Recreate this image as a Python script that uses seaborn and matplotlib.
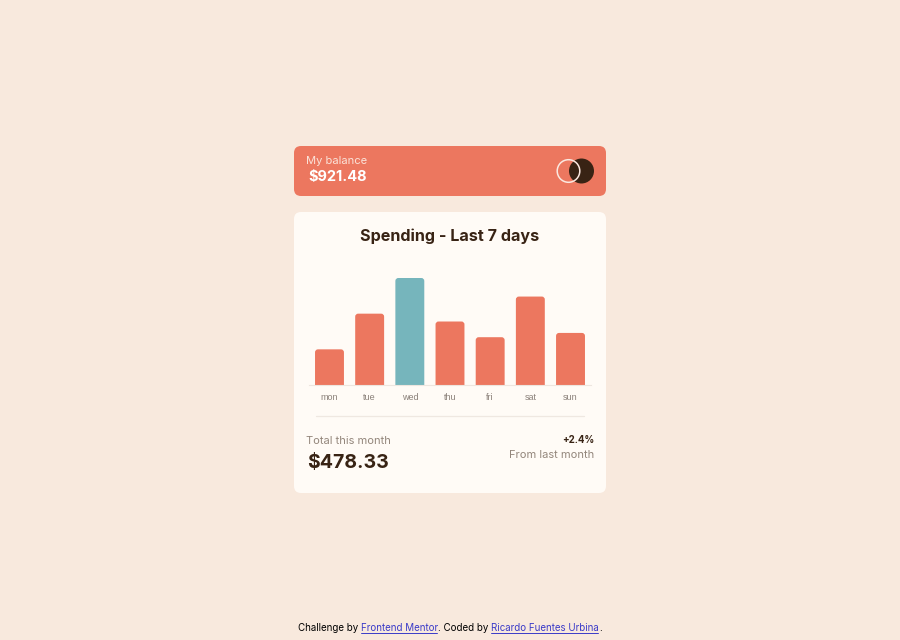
import matplotlib
matplotlib.use("Agg")
import matplotlib.pyplot as plt
import seaborn as sns
import pandas as pd
from matplotlib.patches import FancyBboxPatch, Circle
from matplotlib.transforms import IdentityTransform
from matplotlib.lines import Line2D

days = ["mon", "tue", "wed", "thu", "fri", "sat", "sun"]
amounts = [17.45, 34.91, 52.36, 31.07, 23.39, 43.28, 25.48]
highlight_day = "wed"
balance_label = "My balance"
balance_value = "$921.48"
chart_title = "Spending - Last 7 days"
total_label = "Total this month"
total_value = "$478.33"
change_value = "+2.4%"
change_label = "From last month"

BG = "#F8E9DD"
CARD = "#FFFBF6"
RED = "#EC775F"
CYAN = "#76B5BC"
DARK = "#382314"
GRAY = "#93867B"

sns.set_theme(style="white")
plt.rcParams["font.family"] = ["Inter", "DejaVu Sans"]

W, H = 900, 640
fig = plt.figure(figsize=(9, 6.4), dpi=100)
fig.patch.set_facecolor(BG)
ID = IdentityTransform()


def card(x0, y0, x1, y1, color):
    p = FancyBboxPatch((x0, H - y1), x1 - x0, y1 - y0,
                       boxstyle="round,pad=0,rounding_size=7",
                       transform=ID, facecolor=color, edgecolor="none", zorder=0)
    fig.add_artist(p)


def txt(x, y, s, **kw):
    return fig.text(x / W, (H - y) / H, s, **kw)


# balance card
card(294, 146, 606, 196, RED)
txt(306, 160.5, balance_label, color="#FBE3D9", fontsize=8, va="center", ha="left")
txt(308, 177, balance_value, color="white", fontsize=10.5, fontweight="bold", va="center", ha="left")
fig.add_artist(Circle((581.5, H - 171), 12.5, transform=ID, facecolor=DARK, edgecolor="none", zorder=2))
fig.add_artist(Circle((568.5, H - 171), 11.3, transform=ID, facecolor="none", edgecolor="#FBE8E0", lw=1.1, zorder=3))

# spending card
card(294, 212, 606, 493, CARD)
txt(450, 236, chart_title, color=DARK, fontsize=11.6, fontweight="bold", ha="center", va="center")

# bar chart
ax_left, ax_right = 309.4, 590.6
ax_bottom, ax_top = 385, 270
ax = fig.add_axes([ax_left / W, (H - ax_bottom) / H, (ax_right - ax_left) / W, (ax_bottom - ax_top) / H])
ax.set_facecolor("none")
df = pd.DataFrame({"day": days, "amount": amounts})
palette = {d: (CYAN if d == highlight_day else RED) for d in days}
sns.barplot(data=df, x="day", y="amount", hue="day", palette=palette, legend=False,
            width=0.72, saturation=1, ax=ax)
ymax = 115 * (max(amounts) / 107)
ax.set_ylim(0, ymax)
ax.set_xlim(-0.5, len(days) - 0.5)

# rounded bar tops
xpx = (ax_right - ax_left) / len(days)
ypx = (ax_bottom - ax_top) / ymax
for p in list(ax.patches):
    x, w, h = p.get_x(), p.get_width(), p.get_height()
    fc = p.get_facecolor()
    p.remove()
    r = 3 / xpx
    fb = FancyBboxPatch((x, -6 / ypx), w, h + 6 / ypx,
                        boxstyle=f"round,pad=0,rounding_size={r}",
                        mutation_aspect=(1 / ypx) / (1 / xpx),
                        facecolor=fc, edgecolor="none", zorder=2)
    ax.add_patch(fb)

for s in ["top", "right", "left"]:
    ax.spines[s].set_visible(False)
ax.spines["bottom"].set_color("#EDE6DF")
ax.spines["bottom"].set_linewidth(0.8)
ax.set_xlabel("")
ax.set_ylabel("")
ax.set_yticks([])
ax.tick_params(axis="x", length=0, pad=6, labelsize=6.5, labelcolor="#8A8079")
for lab in ax.get_xticklabels():
    lab.set_family(["Liberation Sans", "DejaVu Sans"])

# divider
fig.add_artist(Line2D([316 / W, 584 / W], [(H - 416) / H] * 2, color="#EFE8E1", lw=0.9))

txt(306, 441, total_label, color=GRAY, fontsize=8, ha="left", va="center")
txt(307, 463, total_value, color=DARK, fontsize=14.0, fontweight="bold", ha="left", va="center")
txt(594, 440, change_value, color=DARK, fontsize=7, fontweight="bold", ha="right", va="center")
txt(594, 455, change_label, color=GRAY, fontsize=8, ha="right", va="center")

# footer
parts = [("Challenge by ", "black", False), ("Frontend Mentor", "#3A3AC8", True),
         (". Coded by ", "black", False), ("Ricardo Fuentes Urbina", "#3A3AC8", True), (".", "black", False)]
renderer = fig.canvas.get_renderer()
texts = []
widths = []
for s, c, u in parts:
    t = txt(0, 628, s, color=c, fontsize=7, ha="left", va="center")
    texts.append(t)
    widths.append(t.get_window_extent(renderer).width)
total = sum(widths)
x = 450 - total / 2
for t, w, (s, c, u) in zip(texts, widths, parts):
    t.set_x(x / W)
    if u:
        fig.add_artist(Line2D([x / W, (x + w - 1) / W], [(H - 633) / H] * 2, color=c, lw=0.7))
    x += w

fig.savefig("out.png", dpi=100, facecolor=BG)
